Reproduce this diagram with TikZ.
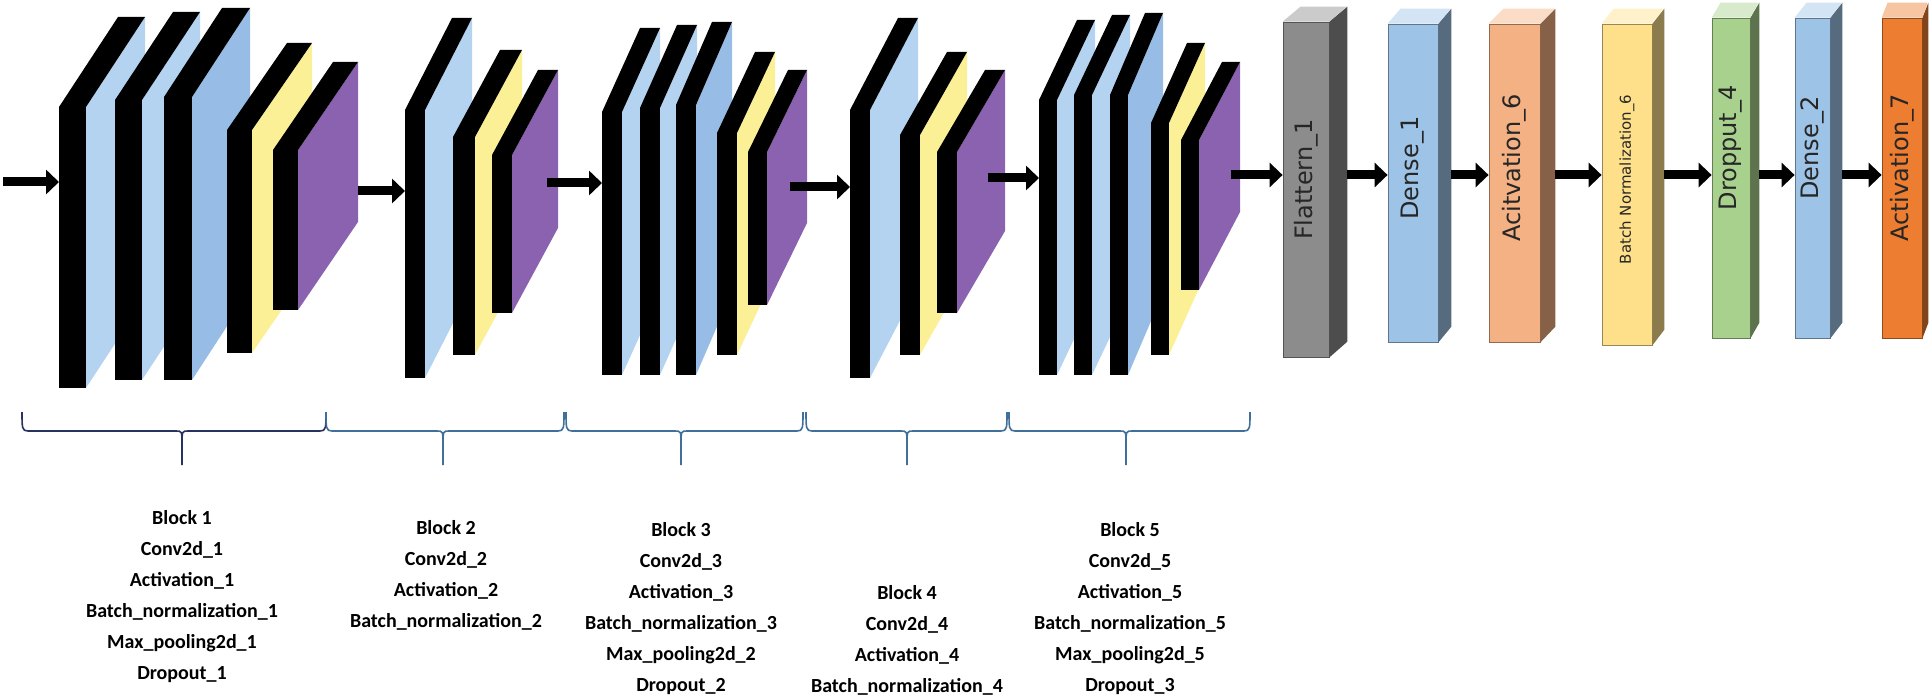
\documentclass[tikz,border=0pt]{standalone}
\usepackage{fontspec}
\setmainfont{Carlito}
\newfontfamily\boxfont{DejaVu Sans}
\usetikzlibrary{arrows.meta,calc}
\definecolor{cblue}{HTML}{B4D3F0}
\definecolor{cblueb}{HTML}{97BDE6}
\definecolor{cyel}{HTML}{FBF096}
\definecolor{cpur}{HTML}{8A62B0}
\definecolor{brA}{HTML}{27325E}
\definecolor{brB}{HTML}{3F6F9A}
\definecolor{cgray}{HTML}{8C8C8C}
\definecolor{cdense}{HTML}{9DC3E6}
\definecolor{cact}{HTML}{F4B183}
\definecolor{cbn}{HTML}{FFE08A}
\definecolor{cdrop}{HTML}{A9D18E}
\definecolor{cactb}{HTML}{ED7D31}
\newcommand\slab[7]{%
  \fill[#7] ({#1+#2},#3) -- (#5,#6) -- (#5,{#4-(#3-#6)}) -- ({#1+#2},#4) -- cycle;
  \fill[black] (#1,#3) -- ({#5-#2},#6) -- (#5,#6) -- ({#1+#2},#3) -- cycle;
  \fill[black] (#1,#3) rectangle ({#1+#2},#4);
}
\newcommand\mybrace[4]{% x1 x2 xm colour
  \draw[#4,line width=1.6pt] (#1,412) .. controls (#1,428) and (#1,431) .. ({#1+6},431) -- ({#3-6},431)
    .. controls (#3,431) .. (#3,445) -- (#3,465);
  \draw[#4,line width=1.6pt] (#3,445) .. controls (#3,431) .. ({#3+6},431) -- ({#2-6},431)
    .. controls (#2,431) and (#2,428) .. (#2,412);
}
\newcommand\laybox[7]{% name x1 x2 ytop ybot colour depth
  \node[lay=#6,minimum width={#3-#2},minimum height={#5-#4}] (#1) at ({(#2+#3)/2},{(#4+#5)/2}) {};
  \fill[#6!55!black] (#1.north east) -- ++(#7,-15) -- ++(0,{#5-#4}) -- (#1.south east) -- cycle;
  \fill[#6!45!white] (#1.north west) -- ++(#7,-15) -- ++({#3-#2},0) -- (#1.north east) -- cycle;
}
\tikzset{
  arr/.style={line width=9pt,-{Triangle[length=13pt,width=24pt]}},
  lay/.style={draw=#1!60!black,line width=0.8pt,fill=#1,inner sep=0pt},
  laytxt/.style={rotate=90,text=black!85},
  blk/.style={align=center,anchor=north,font=\fontsize{20}{31}\selectfont\bfseries}
}
\begin{document}
\begin{tikzpicture}[x=1pt,y=-1pt]
\useasboundingbox (0,0) rectangle (1930,695);
% Block 1
\slab{59}{27}{107}{388}{145}{17}{cblue}
\slab{115}{27}{100}{380}{200}{12}{cblue}
\slab{164}{28}{97}{380}{250}{8}{cblueb}
\slab{227}{25}{130}{353}{312}{43}{cyel}
\slab{273}{25}{150}{310}{358}{62}{cpur}
% Block 2
\slab{405}{20}{110}{378}{472}{18}{cblue}
\slab{453}{22}{137}{355}{522}{50}{cyel}
\slab{492}{20}{155}{313}{558}{70}{cpur}
% Block 3
\slab{602}{20}{112}{375}{660}{28}{cblue}
\slab{640}{20}{108}{375}{697}{25}{cblue}
\slab{676}{20}{105}{375}{732}{22}{cblueb}
\slab{717}{20}{133}{355}{775}{52}{cyel}
\slab{748}{19}{152}{305}{807}{70}{cpur}
% Block 4
\slab{850}{20}{110}{378}{918}{18}{cblue}
\slab{900}{20}{135}{355}{967}{52}{cyel}
\slab{937}{20}{152}{313}{1005}{70}{cpur}
% Block 5
\slab{1039}{18}{100}{375}{1095}{20}{cblue}
\slab{1074}{18}{95}{375}{1130}{15}{cblue}
\slab{1110}{18}{95}{375}{1163}{13}{cblueb}
\slab{1151}{18}{123}{355}{1205}{43}{cyel}
\slab{1181}{18}{140}{290}{1240}{62}{cpur}
% arrow coordinates
\coordinate (in) at (3,182);
\coordinate (b1) at (59,182);
\coordinate (o1) at (358,191);
\coordinate (b2) at (405,191);
\coordinate (o2) at (547,183);
\coordinate (b3) at (602,183);
\coordinate (o3) at (790,187);
\coordinate (b4) at (850,187);
\coordinate (o4) at (988,178);
\coordinate (b5) at (1039,178);
\coordinate (o5) at (1231,175);
\coordinate (ay) at (0,175);
% right layers
\laybox{fl}{1283}{1329}{22}{357}{cgray}{18}
\laybox{d1}{1388}{1438}{24}{342}{cdense}{13}
\laybox{a6}{1489}{1540}{24}{342}{cact}{15}
\laybox{bn}{1602}{1652}{24}{345}{cbn}{12}
\laybox{dr}{1712}{1750}{18}{338}{cdrop}{9}
\laybox{d2}{1795}{1830}{18}{338}{cdense}{12}
\laybox{a7}{1882}{1922}{18}{338}{cactb}{6}
\node[laytxt,font=\boxfont\fontsize{24}{24}\selectfont] at ($(fl)+(0,-10)$) {Flattern\_1};
\node[laytxt,font=\boxfont\fontsize{24}{24}\selectfont] at ($(d1)+(0,-15)$) {Dense\_1};
\node[laytxt,font=\boxfont\fontsize{24}{24}\selectfont] at ($(a6)+(0,-15)$) {Acitvation\_6};
\node[laytxt,font=\boxfont\fontsize{15}{15}\selectfont] at ($(bn)+(0,-5)$) {Batch Normalization\_6};
\node[laytxt,font=\boxfont\fontsize{24}{24}\selectfont] at ($(dr)+(0,-30)$) {Dropput\_4};
\node[laytxt,font=\boxfont\fontsize{24}{24}\selectfont] at ($(d2)+(0,-30)$) {Dense\_2};
\node[laytxt,font=\boxfont\fontsize{24}{24}\selectfont] at ($(a7)+(0,-10)$) {Activation\_7};
% arrows
\draw[arr] (in) -- (b1);
\draw[arr] (o1) -- (b2);
\draw[arr] (o2) -- (b3);
\draw[arr] (o3) -- (b4);
\draw[arr] (o4) -- (b5);
\draw[arr] (o5) -- (fl.west |- ay);
\draw[arr] ($(fl.east |- ay)+(18,0)$) -- (d1.west |- ay);
\draw[arr] ($(d1.east |- ay)+(13,0)$) -- (a6.west |- ay);
\draw[arr] ($(a6.east |- ay)+(15,0)$) -- (bn.west |- ay);
\draw[arr] ($(bn.east |- ay)+(12,0)$) -- (dr.west |- ay);
\draw[arr] ($(dr.east |- ay)+(9,0)$) -- (d2.west |- ay);
\draw[arr] ($(d2.east |- ay)+(12,0)$) -- (a7.west |- ay);
% braces
\mybrace{22}{326}{182}{brA}
\mybrace{326}{564}{443}{brB}
\mybrace{566}{803}{681}{brB}
\mybrace{806}{1007}{907}{brB}
\mybrace{1009}{1250}{1126}{brB}
% labels
\node[blk] (t1) at (182,507) {Block 1\\Conv2d\_1\\Activation\_1\\Batch\_normalization\_1\\Max\_pooling2d\_1\\Dropout\_1};
\node[blk] (t2) at (446,517) {Block 2\\Conv2d\_2\\Activation\_2\\Batch\_normalization\_2};
\node[blk] (t3) at (681,519) {Block 3\\Conv2d\_3\\Activation\_3\\Batch\_normalization\_3\\Max\_pooling2d\_2\\Dropout\_2};
\node[blk] (t4) at (907,582) {Block 4\\Conv2d\_4\\Activation\_4\\Batch\_normalization\_4};
\node[blk] (t5) at (1130,519) {Block 5\\Conv2d\_5\\Activation\_5\\Batch\_normalization\_5\\Max\_pooling2d\_5\\Dropout\_3};
\end{tikzpicture}
\end{document}
